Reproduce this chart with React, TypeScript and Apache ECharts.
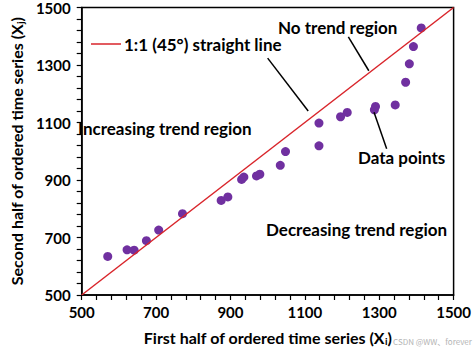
import React, { useEffect, useRef } from "react";
import * as echarts from "echarts";

const firstHalf = [570, 622, 641, 674, 707, 771, 875, 893, 930, 936, 970, 979, 1034, 1048, 1138, 1138, 1196, 1214, 1287, 1290, 1343, 1371, 1381, 1392, 1413];
const secondHalf = [634, 657, 656, 689, 726, 783, 829, 841, 902, 910, 914, 920, 951, 999, 1019, 1098, 1120, 1135, 1144, 1156, 1161, 1240, 1304, 1364, 1429];
const oneToOne = [[500, 500], [1500, 1500]];
const tickValues = [500, 700, 900, 1100, 1300, 1500];
// arrows: [startX, startY, endX, endY] in data units
const arrows = [
  [1000, 1324, 1109, 1140],
  [1217, 1398, 1272, 1280],
  [1320, 1009, 1286, 1136],
];

const FONT = "Lato";

export default function App() {
  const ref = useRef<HTMLDivElement>(null);
  useEffect(() => {
    if (!ref.current) return;
    const chart = echarts.init(ref.current, undefined, { renderer: "svg" });
    const axisCommon = {
      type: "value",
      min: tickValues[0],
      max: tickValues[tickValues.length - 1],
      interval: 200,
      axisLine: { show: true, onZero: false, lineStyle: { color: "#000", width: 1.5 } },
      axisTick: { show: true, length: 5, lineStyle: { color: "#000", width: 1.2 } },
      minorTick: { show: true, splitNumber: 5, length: 5, lineStyle: { color: "#000", width: 1.2 } },
      splitLine: { show: false },
      minorSplitLine: { show: false },
      axisLabel: { color: "#000", fontFamily: FONT, fontWeight: "bold", fontSize: 15, formatter: (v: number) => String(v) },
      nameLocation: "middle",
      nameTextStyle: {
        color: "#000",
        fontFamily: FONT,
        fontWeight: "bold",
        fontSize: 16,
        rich: {
          sub: { fontFamily: FONT, fontWeight: "bold", fontSize: 10, padding: [8, 0, 0, 0], color: "#000" },
        },
      },
    };
    const textStyle = { fill: "#000", fontFamily: FONT, fontWeight: "bold", fontSize: 17 };
    chart.setOption({
      animation: false,
      grid: { left: 66, top: 5, width: 392, height: 296, show: true, borderColor: "#000", borderWidth: 1.5, containLabel: false },
      xAxis: {
        ...axisCommon,
        name: "First half of ordered time series (X{sub|i})",
        nameGap: 33,
        axisLabel: { ...axisCommon.axisLabel, margin: 9 },
      },
      yAxis: {
        ...axisCommon,
        name: "Second half of ordered time series (X{sub|j})",
        nameGap: 47,
        axisLabel: { ...axisCommon.axisLabel, margin: 11 },
      },
      series: [
        {
          type: "line",
          data: oneToOne,
          symbol: "none",
          silent: true,
          lineStyle: { color: "#d9252b", width: 1.5 },
          markLine: {
            silent: true,
            symbol: ["none", "arrow"],
            symbolSize: [0, 9],
            label: { show: false },
            lineStyle: { color: "#000", width: 1.5, type: "solid" },
            emphasis: { disabled: true },
            data: arrows.map((a) => [{ coord: [a[0], a[1]] }, { coord: [a[2], a[3]] }]),
          },
        },
        {
          type: "scatter",
          data: firstHalf.map((x, i) => [x, secondHalf[i]]),
          symbolSize: 9,
          itemStyle: { color: "#7030a0", opacity: 1 },
        },
      ],
      graphic: [
        { type: "line", shape: { x1: 91, y1: 44, x2: 121, y2: 44 }, style: { stroke: "#d9252b", lineWidth: 1.5 } },
        { type: "text", x: 124, y: 44, style: { ...textStyle, text: "1:1 (45°) straight line", textVerticalAlign: "middle" } },
        { type: "text", x: 278, y: 27, style: { ...textStyle, text: "No trend region", textVerticalAlign: "middle" } },
        { type: "text", x: 78, y: 128, style: { ...textStyle, text: "Increasing trend region", textVerticalAlign: "middle" } },
        { type: "text", x: 358, y: 157, style: { ...textStyle, text: "Data points", textVerticalAlign: "middle" } },
        { type: "text", x: 266, y: 229, style: { ...textStyle, text: "Decreasing trend region", textVerticalAlign: "middle" } },
        { type: "text", x: 393, y: 341, style: { text: "CSDN @WW、forever", fill: "#b4b4b4", fontFamily: "Noto Sans CJK SC", fontSize: 8, textVerticalAlign: "middle" } },
      ],
    });
    return () => chart.dispose();
  }, []);
  return <div ref={ref} style={{ width: 474, height: 351, position: "absolute", left: 0, top: 0, background: "#fff" }} />;
}
